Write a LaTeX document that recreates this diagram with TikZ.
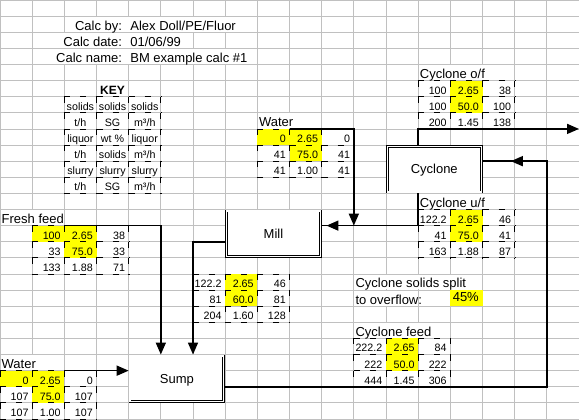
\documentclass[tikz,border=0pt]{standalone}
\usepackage{fontspec}
\setmainfont{Liberation Sans}
\usetikzlibrary{arrows.meta}
\definecolor{gridc}{RGB}{192,192,192}
\definecolor{yel}{RGB}{255,255,0}
\newcommand\bigf{\fontsize{13}{15}\selectfont}
\newcommand\smf{\fontsize{10.7}{12}\selectfont}
\newcommand\hidecells[3]{\fill[white] ([xshift=0.5pt]#1,#3+0.04) rectangle ([xshift=-0.5pt]#2,#3+0.96);}
\newcommand\yc[2]{\fill[yel] (#1,#2) rectangle (#1+1,#2+1);}
\newcommand\dtab[3]{%
  \foreach \i in {0,...,3}{\foreach \j in {1,...,#3}{\draw[dashb] (#1+\i,#2+\j-1) -- (#1+\i,#2+\j);}}%
  \foreach \j in {0,...,#3}{\foreach \i in {0,1,2}{\draw[dashb] (#1+\i,#2+\j) -- (#1+\i+1,#2+\j);}}%
}
\newcommand\trow[5]{%
  \node[rt] (t#1-#2a) at (#1+1,#2+1) {#3};
  \node[rt] (t#1-#2b) at (#1+2,#2+1) {#4};
  \node[rt] (t#1-#2c) at (#1+3,#2+1) {#5};}
\newcommand\krow[4]{%
  \node[kt] (k#1a) at (2.5,#1+1) {#2};
  \node[kt] (k#1b) at (3.5,#1+1) {#3};
  \node[kt] (k#1c) at (4.5,#1+1) {#4};}
\begin{document}
\begin{tikzpicture}[x=32.1667pt,y=-16.1154pt,
  gridl/.style={draw=gridc,line width=0.8pt},
  dashb/.style={draw=black,line width=0.8pt,dash pattern=on 6pt off 10pt},
  conn/.style={line width=1.6pt},
  arr/.style={-{Triangle[length=12pt,width=10pt]}},
  boxst/.style={draw,fill=white,line width=0.8pt,double=white,double distance=1.2pt,
    minimum width=93.7pt,minimum height=45.55pt,inner sep=0pt,outer sep=1.4pt,
    font=\bigf,text height=9.3pt,text depth=0pt},
  rt/.style={inner sep=0pt,anchor=base east,xshift=-3.5pt,yshift=2.6pt,font=\smf},
  lbl/.style={inner sep=0pt,anchor=base west,xshift=1.5pt,yshift=2.2pt,font=\bigf},
  rlbl/.style={inner sep=0pt,anchor=base east,xshift=-6.5pt,yshift=2.2pt,font=\bigf},
  kt/.style={inner sep=0pt,anchor=base,yshift=2.6pt,font=\smf}
]
\useasboundingbox (0,0) rectangle (18,26);
\fill[white] (0,0) rectangle (18,26);
\foreach \i in {0,...,18} \draw[gridl] (\i,0) -- (\i,26);
\foreach \j in {0,...,26} \draw[gridl] (0,\j) -- (18,\j);

% gridlines hidden under overflowing text
\hidecells{2}{8}{1}
\hidecells{1}{6}{2}
\hidecells{1}{8}{3}
\hidecells{13}{16}{4}
\hidecells{8}{10}{7}
\hidecells{13}{16}{12}
\hidecells{0}{2}{13}
\hidecells{11}{15}{17}
\hidecells{11}{13}{18}
\hidecells{11}{14}{20}
\hidecells{0}{2}{22}

% yellow input cells
\yc{14}{5}\yc{14}{6}
\yc{8}{8}\yc{9}{8}\yc{9}{9}
\yc{14}{13}\yc{14}{14}
\yc{1}{14}\yc{2}{14}\yc{2}{15}
\yc{7}{17}\yc{7}{18}
\yc{12}{21}\yc{12}{22}
\yc{0}{23}\yc{1}{23}\yc{1}{24}
\yc{14}{18}

% dashed tables
\dtab{2}{6}{6}
\dtab{13}{5}{3}
\dtab{8}{8}{3}
\dtab{13}{13}{3}
\dtab{1}{14}{3}
\dtab{6}{17}{3}
\dtab{11}{21}{3}
\dtab{0}{23}{3}

% header
\node[rlbl] (lby) at (4,2) {Calc by:};
\node[lbl] (vby) at (4,2) {Alex Doll/PE/Fluor};
\node[rlbl] (ldate) at (4,3) {Calc date:};
\node[lbl] (vdate) at (4,3) {01/06/99};
\node[rlbl] (lname) at (4,4) {Calc name:};
\node[lbl] (vname) at (4,4) {BM example calc \#1};

% key
\node[inner sep=0pt,anchor=base,yshift=2.2pt,font=\fontsize{12}{14}\selectfont\bfseries] (keyt) at (3.5,6) {KEY};
\krow{6}{solids}{solids}{solids}
\krow{7}{t/h}{SG}{m³/h}
\krow{8}{liquor}{wt \%}{liquor}
\krow{9}{t/h}{solids}{m³/h}
\krow{10}{slurry}{slurry}{slurry}
\krow{11}{t/h}{SG}{m³/h}

% stream labels
\node[lbl] (lof) at (13,5) {Cyclone o/f};
\node[lbl] (lwt) at (8,8) {Water};
\node[lbl] (luf) at (13,13) {Cyclone u/f};
\node[lbl] (lff) at (0,14) {Fresh feed};
\node[lbl] (lsp1) at (11,18) {Cyclone solids split};
\node[lbl] (lsp2) at (11,19) {to overflow:};
\node[rt,font=\bigf,yshift=2.2pt] (split) at (15,19) {45\%};
\node[lbl] (lcf) at (11,21) {Cyclone feed};
\node[lbl] (lwb) at (0,23) {Water};

% stream tables
\trow{13}{5}{100}{2.65}{38}
\trow{13}{6}{100}{50.0}{100}
\trow{13}{7}{200}{1.45}{138}
\trow{8}{8}{0}{2.65}{0}
\trow{8}{9}{41}{75.0}{41}
\trow{8}{10}{41}{1.00}{41}
\trow{13}{13}{122.2}{2.65}{46}
\trow{13}{14}{41}{75.0}{41}
\trow{13}{15}{163}{1.88}{87}
\trow{1}{14}{100}{2.65}{38}
\trow{1}{15}{33}{75.0}{33}
\trow{1}{16}{133}{1.88}{71}
\trow{6}{17}{122.2}{2.65}{46}
\trow{6}{18}{81}{60.0}{81}
\trow{6}{19}{204}{1.60}{128}
\trow{11}{21}{222.2}{2.65}{84}
\trow{11}{22}{222}{50.0}{222}
\trow{11}{23}{444}{1.45}{306}
\trow{0}{23}{0}{2.65}{0}
\trow{0}{24}{107}{75.0}{107}
\trow{0}{25}{107}{1.00}{107}

% unit boxes
\node[boxst] (sump) at (5.5,23.5) {Sump};
\node[boxst] (mill) at (8.5,14.5) {Mill\hspace{6pt}};
\node[boxst] (cyclone) at (13.5,10.5) {Cyclone};

% connectors
\coordinate (ffs) at (2,14); \coordinate (ffc) at (5,14);
\draw[conn,arr] (ffs) -- (ffc) -- (ffc |- sump.north);
\coordinate (ms) at (6,15);
\draw[conn,arr] (mill.west |- ms) -- (ms) -- (ms |- sump.north);
\coordinate (wbs) at (2,23);
\draw[conn,arr] (wbs) -- (wbs -| sump.west);
\coordinate (wts) at (9,8); \coordinate (wtc) at (11,8); \coordinate (ufc) at (13,14);
\draw[conn,arr] (wts) -- (wtc) -- (wtc |- ufc);
\draw[conn] (ufc |- cyclone.south) -- (ufc) -- (ufc -| mill.east);
\coordinate (ufab) at (10.52,14); \coordinate (ufat) at (10.15,14);
\draw[conn,arr] (ufab) -- (ufat);
\coordinate (ofc) at (13,8); \coordinate (ofe) at (18,8);
\draw[conn,arr] (ofc |- cyclone.north) -- (ofc) -- (ofe);
\coordinate (cfa) at (17,24); \coordinate (cfb) at (17,10);
\draw[conn] (sump.east |- cfa) -- (cfa) -- (cfb) -- (cfb -| cyclone.east);
\coordinate (cfab) at (16.25,10); \coordinate (cfat) at (15.88,10);
\draw[conn,arr] (cfab) -- (cfat);
\end{tikzpicture}
\end{document}
